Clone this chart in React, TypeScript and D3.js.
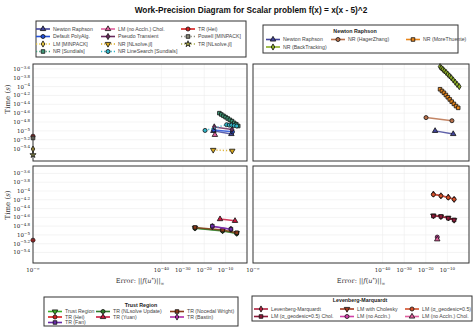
import React from 'react';
import * as d3 from 'd3';

const W = 474, H = 331;

// axis ticks (log10 exponents)
const xTickExps = [-40, -30, -20, -10];
const xTickLabels = ['−40', '−30', '−20', '−10'];
const xMinLabel = '−∞';
const yTickExps = [-3.6, -3.8, -4, -4.2, -4.4, -4.6, -4.8, -5, -5.2, -5.4];
const yTickLabels = ['−3.6', '−3.8', '−4', '−4.2', '−4.4', '−4.6', '−4.8', '−5', '−5.2', '−5.4'];

// ---- series data: log10(error) (null = zero error) and log10(time) ----
const nrErr = [-15.7, -7.3];
const nrTime = [-5.0, -5.07];
const polyErr = [-15.5, -6.8];
const polyTime = [-4.98, -5.02];
const lmMinpackErr = [null];
const lmMinpackTime = [-5.41];
const nrSundialsErr = [-12.9, -12.0, -11.0, -10.0, -9.0, -8.0, -7.0, -6.0, -5.0, -4.1];
const nrSundialsTime = [-4.6, -4.63, -4.66, -4.69, -4.72, -4.75, -4.78, -4.82, -4.85, -4.89];
const lmNoAccCholErr = [-15.0];
const lmNoAccCholTime = [-5.09];
const pseudoErr = [-15.3, -7.0];
const pseudoTime = [-4.91, -4.97];
const nrNLsolveErr = [-15.8, -6.9];
const nrNLsolveTime = [-5.43, -5.45];
const nrLsSundialsErr = [-19.6, -9.5, -8.3, -7.2, -6.0, -4.8];
const nrLsSundialsTime = [-4.99, -4.86, -4.87, -4.87, -4.88, -4.89];
const trHeiErr = [null];
const trHeiTime = [-5.12];
const powellErr = [null];
const powellTime = [-5.16];
const trNLsolveErr = [null];
const trNLsolveTime = [-5.54];

const hzErr = [-19.9, -7.9];
const hzTime = [-4.70, -4.77];
const mtErr = [-13.4, -12.5, -11.6, -10.7, -9.8, -8.9, -8.0, -7.0, -6.0, -5.0];
const mtTime = [-4.06, -4.10, -4.14, -4.19, -4.24, -4.29, -4.34, -4.39, -4.44, -4.48];
const btErr = [-13.4, -12.8, -12.1, -11.4, -10.6, -9.8, -9.0, -8.2, -7.3, -6.4, -5.5, -4.5];
const btTime = [-3.55, -3.58, -3.61, -3.645, -3.68, -3.72, -3.76, -3.80, -3.85, -3.90, -3.95, -4.0];

const trErr = [-24.3, -11.4, -4.8];
const trTime = [-4.84, -4.90, -4.96];
const trUpdTime = [-4.85, -4.91, -4.97];
const trNwTime = [-4.83, -4.89, -4.95];
const trYuanErr = [-12.6, -5.6];
const trYuanTime = [-4.64, -4.68];
const trFanErr = [-16.2, -7.5];
const trFanTime = [-4.80, -4.87];
const trBastinTime = [-4.81, -4.87];

const lmErr = [-16.5, -13.0, -9.6, -6.9];
const lmTime = [-4.07, -4.11, -4.14, -4.19];
const lmGeoTime = [-4.08, -4.11, -4.15, -4.19];
const lmCholTime = [-4.56, -4.58, -4.61, -4.66];
const lmGeoCholTime = [-4.57, -4.58, -4.62, -4.66];
const lmNoAccErr = [-14.7];
const lmNoAccTime = [-5.05];
const lmNoAccChol2Time = [-5.10];

type Mk = 'tri' | 'dtri' | 'circle' | 'diamond' | 'square' | 'star' | 'cross';
interface S { name: string; color: string; marker: Mk; dotted?: boolean; err: (number | null)[]; time: number[]; }

const S_NR: S = { name: 'Newton Raphson', color: '#42449a', marker: 'tri', err: nrErr, time: nrTime };
const generalSeries: S[] = [
  S_NR,
  { name: 'Default PolyAlg.', color: '#2350d8', marker: 'circle', err: polyErr, time: polyTime },
  { name: 'LM [MINPACK]', color: '#e3c23a', marker: 'diamond', dotted: true, err: lmMinpackErr, time: lmMinpackTime },
  { name: 'NR [Sundials]', color: '#3f9a7a', marker: 'square', dotted: true, err: nrSundialsErr, time: nrSundialsTime },
  { name: 'LM (no Accln.) Chol.', color: '#e0609e', marker: 'tri', err: lmNoAccCholErr, time: lmNoAccCholTime },
  { name: 'Pseudo Transient', color: '#6a2a5e', marker: 'diamond', err: pseudoErr, time: pseudoTime },
  { name: 'NR [NLsolve.jl]', color: '#d9a81c', marker: 'dtri', dotted: true, err: nrNLsolveErr, time: nrNLsolveTime },
  { name: 'NR LineSearch [Sundials]', color: '#2fb5c9', marker: 'circle', dotted: true, err: nrLsSundialsErr, time: nrLsSundialsTime },
  { name: 'TR (Hei)', color: '#d81e1e', marker: 'circle', err: trHeiErr, time: trHeiTime },
  { name: 'Powell [MINPACK]', color: '#8a8a7a', marker: 'square', dotted: true, err: powellErr, time: powellTime },
  { name: 'TR [NLsolve.jl]', color: '#a8a848', marker: 'star', dotted: true, err: trNLsolveErr, time: trNLsolveTime },
];
const nrSeries: S[] = [
  S_NR,
  { name: 'NR (HagerZhang)', color: '#b8704a', marker: 'circle', err: hzErr, time: hzTime },
  { name: 'NR (MoreThuente)', color: '#e8861c', marker: 'square', err: mtErr, time: mtTime },
  { name: 'NR (BackTracking)', color: '#8aac22', marker: 'diamond', err: btErr, time: btTime },
];
const trSeries: S[] = [
  { name: 'Trust Region', color: '#3fae2a', marker: 'dtri', err: trErr, time: trTime },
  { name: 'TR (NLsolve Update)', color: '#2f7a2a', marker: 'circle', err: trErr, time: trUpdTime },
  { name: 'TR (Nocedal Wright)', color: '#8a3a1a', marker: 'square', err: trErr, time: trNwTime },
  { name: 'TR (Hei)', color: '#d81e1e', marker: 'circle', err: trHeiErr, time: trHeiTime },
  { name: 'TR (Yuan)', color: '#c8183e', marker: 'tri', err: trYuanErr, time: trYuanTime },
  { name: 'TR (Bastin)', color: '#b02aa8', marker: 'diamond', err: trFanErr, time: trBastinTime },
  { name: 'TR (Fan)', color: '#6a2aa8', marker: 'square', err: trFanErr, time: trFanTime },
];
const lmSeries: S[] = [
  { name: 'Levenberg-Marquardt', color: '#b0203e', marker: 'diamond', err: lmErr, time: lmTime },
  { name: 'LM with Cholesky', color: '#a0381e', marker: 'dtri', err: lmErr, time: lmCholTime },
  { name: 'LM (α_geodesic=0.5)', color: '#d4502a', marker: 'circle', err: lmErr, time: lmGeoTime },
  { name: 'LM (α_geodesic=0.5) Chol.', color: '#8e1a3a', marker: 'square', err: lmErr, time: lmGeoCholTime },
  { name: 'LM (no Accln.)', color: '#d040a8', marker: 'circle', err: lmNoAccErr, time: lmNoAccTime },
  { name: 'LM (no Accln.) Chol.', color: '#e0609e', marker: 'tri', err: lmNoAccErr, time: lmNoAccChol2Time },
];

const panels = [
  { x0: 33, x1: 247, y0: 64, y1: 161, yDom: [-5.68, -3.49], series: generalSeries, left: true, bottom: false },
  { x0: 253, x1: 469, y0: 64, y1: 161, yDom: [-5.68, -3.49], series: nrSeries, left: false, bottom: false },
  { x0: 33, x1: 247, y0: 166, y1: 263, yDom: [-5.64, -3.43], series: trSeries, left: true, bottom: true },
  { x0: 253, x1: 469, y0: 166, y1: 263, yDom: [-5.64, -3.43], series: lmSeries, left: false, bottom: true },
];
const X_MIN = 1e-100, X_MAX = 1;

function markerPath(m: Mk, size: number) {
  const map: Record<Mk, any> = {
    tri: d3.symbolTriangle, dtri: d3.symbolTriangle, circle: d3.symbolCircle,
    diamond: d3.symbolDiamond, square: d3.symbolSquare, star: d3.symbolStar, cross: d3.symbolCross,
  };
  return d3.symbol().type(map[m]).size(size)()!;
}

function Marker({ m, x, y, color }: { m: Mk; x: number; y: number; color: string }) {
  const size = m === 'diamond' ? 11 : m === 'star' ? 12 : 13;
  return (
    <path d={markerPath(m, size)} transform={`translate(${x},${y})${m === 'dtri' ? ' rotate(180)' : ''}`}
      fill={color} stroke="#111" strokeWidth={0.8} />
  );
}

function Panel({ p }: { p: typeof panels[number] }) {
  const x = d3.scaleLog().domain([X_MIN, X_MAX]).range([p.x0, p.x1]).clamp(true);
  const y = d3.scaleLinear().domain(p.yDom).range([p.y1, p.y0]);
  const px = (e: number | null) => (e === null ? p.x0 : x(Math.pow(10, e)));
  const line = d3.line<[number, number]>().x(d => d[0]).y(d => d[1]);
  const serif = "'DejaVu Serif', 'Liberation Serif', serif";
  return (
    <g>
      {yTickExps.map((t, i) => (
        <line key={'gy' + i} x1={p.x0} x2={p.x1} y1={y(t)} y2={y(t)} stroke="#ececec" strokeWidth={0.6} />
      ))}
      {xTickExps.map((t, i) => (
        <line key={'gx' + i} x1={x(Math.pow(10, t))} x2={x(Math.pow(10, t))} y1={p.y0} y2={p.y1} stroke="#ececec" strokeWidth={0.6} />
      ))}
      {p.series.map((s, i) => {
        const pts: [number, number][] = s.err.map((e, j) => [px(e), y(s.time[j])]);
        return (
          <g key={i}>
            {pts.length > 1 && (
              <path d={line(pts)!} fill="none" stroke={s.color} strokeWidth={1.5}
                strokeDasharray={s.dotted ? '1.2,2' : undefined} opacity={0.85} />
            )}
            {pts.map((pt, j) => <Marker key={j} m={s.marker} x={pt[0]} y={pt[1]} color={s.color} />)}
          </g>
        );
      })}
      <rect x={p.x0} y={p.y0} width={p.x1 - p.x0} height={p.y1 - p.y0} fill="none" stroke="#333" strokeWidth={1} />
      {p.left && yTickExps.map((t, i) => (
        <text key={'yl' + i} x={p.x0 - 3} y={y(t) + 2} textAnchor="end" fontFamily={serif} fontSize={5.5} fill="#222">
          10<tspan dy={-2.2} fontSize={4}>{yTickLabels[i]}</tspan>
        </text>
      ))}
      {p.left && (
        <text transform={`translate(10,${p.bottom ? 205 : 99}) rotate(-90)`} textAnchor="middle" fontFamily={serif} fontSize={7} fill="#333">
          Time (<tspan fontStyle="italic">s</tspan>)
        </text>
      )}
      {p.bottom && (
        <g>
          <text x={p.x0} y={p.y1 + 9} textAnchor="middle" fontFamily={serif} fontSize={5.5} fill="#222">
            10<tspan dy={-2.2} fontSize={4}>{xMinLabel}</tspan>
          </text>
          {xTickExps.map((t, i) => (
            <text key={'xl' + i} x={x(Math.pow(10, t))} y={p.y1 + 9} textAnchor="middle" fontFamily={serif} fontSize={5.5} fill="#222">
              10<tspan dy={-2.2} fontSize={4}>{xTickLabels[i]}</tspan>
            </text>
          ))}
          <text x={(p.x0 + p.x1) / 2} y={p.y1 + 20} textAnchor="middle" fontFamily={serif} fontSize={6.5} fill="#333">
            Error: ||<tspan fontStyle="italic">f</tspan>(<tspan fontStyle="italic">u</tspan><tspan dy={-2} fontSize={4.5}>*</tspan><tspan dy={2}>)||</tspan><tspan dy={1.5} fontSize={4.5}>∞</tspan>
          </text>
        </g>
      )}
    </g>
  );
}

interface LegendSpec {
  box: [number, number, number, number];
  title?: string; titleX?: number; titleY?: number;
  colX: number[]; rowY: number[]; colMajor?: boolean; series: S[];
}
const legends: LegendSpec[] = [
  { box: [36, 21, 246, 57], colX: [43, 108, 188], rowY: [29, 36.5, 44, 51.5], colMajor: true, series: generalSeries },
  { box: [263, 25, 458, 53], title: 'Newton Raphson', titleX: 355, titleY: 32.5, colX: [273, 338, 413], rowY: [39.5, 47], series: nrSeries },
  { box: [44, 297, 238, 326], title: 'Trust Region', titleX: 141, titleY: 306.5, colX: [55, 103, 177], rowY: [311.5, 317, 322.5], series: trSeries },
  { box: [252, 296, 472, 321], title: 'Levenberg-Marquardt', titleX: 360, titleY: 302, colX: [261, 347, 412], rowY: [309, 316.5], series: lmSeries },
];

function Legend({ l }: { l: LegendSpec }) {
  const sans = "'Liberation Sans', Arial, sans-serif";
  const nrow = l.rowY.length, ncol = l.colX.length;
  return (
    <g>
      <rect x={l.box[0]} y={l.box[1]} width={l.box[2] - l.box[0]} height={l.box[3] - l.box[1]} fill="#fff" stroke="#333" strokeWidth={1} />
      {l.title && (
        <text x={l.titleX} y={l.titleY} textAnchor="middle" fontFamily={sans} fontWeight="bold" fontSize={5.3} fill="#222">{l.title}</text>
      )}
      {l.series.map((s, i) => {
        const ci = l.colMajor ? Math.floor(i / nrow) : i % ncol;
        const ri = l.colMajor ? i % nrow : Math.floor(i / ncol);
        const cx = l.colX[ci];
        const cy = l.rowY[ri];
        return (
          <g key={i}>
            <line x1={cx - 7} x2={cx + 7} y1={cy} y2={cy} stroke={s.color} strokeWidth={1.6}
              strokeDasharray={s.dotted ? '1.2,2' : undefined} />
            <Marker m={s.marker} x={cx} y={cy} color={s.color} />
            <text x={cx + 10} y={cy + 1.9} fontFamily={sans} fontSize={5.2} fill="#444">{s.name}</text>
          </g>
        );
      })}
    </g>
  );
}

export default function App() {
  return (
    <svg width={W} height={H} style={{ position: 'absolute', left: 0, top: 0, background: '#fff' }}>
      <rect width={W} height={H} fill="#fff" />
      <text x={251} y={13} textAnchor="middle" fontFamily="'Liberation Sans', Arial, sans-serif" fontWeight="bold" fontSize={8.3} fill="#111">
        Work-Precision Diagram for Scalar problem f(x) = x(x - 5)^2
      </text>
      {panels.map((p, i) => <Panel key={i} p={p} />)}
      {legends.map((l, i) => <Legend key={i} l={l} />)}
    </svg>
  );
}
